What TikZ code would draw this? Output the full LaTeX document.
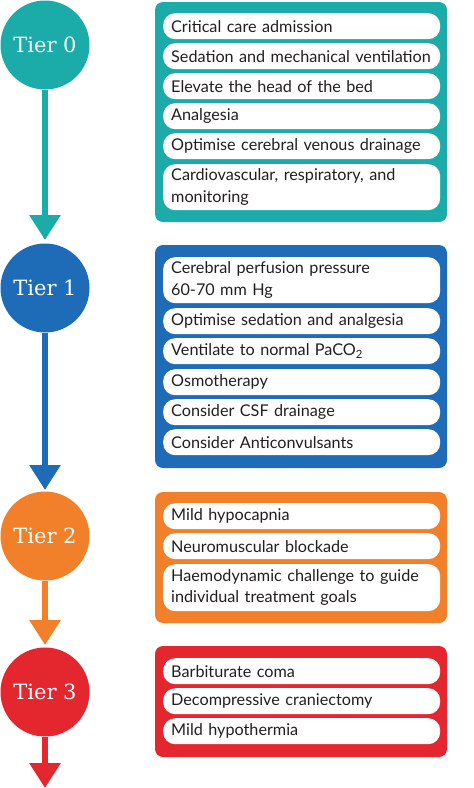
\documentclass[tikz,border=0pt]{standalone}
\usepackage{fontspec}
\setmainfont{Lato}
\newfontfamily\tierfont{DejaVu Serif}
\usetikzlibrary{arrows.meta}
\definecolor{tealzero}{RGB}{27,172,170}
\definecolor{blueone}{RGB}{30,108,184}
\definecolor{orangetwo}{RGB}{242,128,42}
\definecolor{redthree}{RGB}{228,38,46}
\definecolor{itemtext}{RGB}{35,31,32}
\begin{document}
\begin{tikzpicture}[x=1pt,y=-1pt]
  \tikzstyle{tiernode}=[circle, minimum size=89pt, inner sep=0pt, text=white, font=\tierfont\fontsize{21}{24}\selectfont]
  \tikzstyle{tierbox}=[rounded corners=8pt]
  \tikzstyle{item}=[rectangle, rounded corners=12pt, fill=white, text=itemtext, anchor=north west, minimum width=277pt, minimum height=26pt, text width=261pt, inner xsep=8pt, inner ysep=2pt, align=left, font=\fontsize{16.2}{21.5}\selectfont]
  \tikzstyle{tierarrow}=[line width=6pt, -{Triangle[width=30pt,length=25pt]}]
  \useasboundingbox (0,0) rectangle (474,788);

  % Tier circles
  \node[tiernode, fill=tealzero] (t0) at (45,45) {Tier 0};
  \node[tiernode, fill=blueone] (t1) at (45,288) {Tier 1};
  \node[tiernode, fill=orangetwo] (t2) at (45,536) {Tier 2};
  \node[tiernode, fill=redthree] (t3) at (45,692) {Tier 3};

  % Arrow ends
  \coordinate (e0) at (45,240);
  \coordinate (e1) at (45,490);
  \coordinate (e2) at (45,645);
  \coordinate (e3) at (45,788);

  \draw[tierarrow, tealzero] (t0) -- (e0);
  \draw[tierarrow, blueone] (t1) -- (e1);
  \draw[tierarrow, orangetwo] (t2) -- (e2);
  \draw[tierarrow, redthree] (t3) -- (e3);

  % Tier 0 box
  \fill[tierbox, tealzero] (155,2) rectangle (447,222);
  \node[item] (c1) at (163,13) {Critical care admission};
  \node[item] (c2) at (163,43) {Sedation and mechanical ventilation};
  \node[item] (c3) at (163,73) {Elevate the head of the bed};
  \node[item] (c4) at (163,103) {Analgesia};
  \node[item] (c5) at (163,133) {Optimise cerebral venous drainage};
  \node[item, minimum height=46pt] (c6) at (163,164) {Cardiovascular, respiratory, and\\monitoring};

  % Tier 1 box
  \fill[tierbox, blueone] (155,245) rectangle (447,468);
  \node[item, minimum height=46pt] (b1) at (163,257) {Cerebral perfusion pressure\\60-70 mm Hg};
  \node[item] (b2) at (163,308) {Optimise sedation and analgesia};
  \node[item] (b3) at (163,338) {Ventilate to normal PaCO\textsubscript{2}};
  \node[item] (b4) at (163,369) {Osmotherapy};
  \node[item] (b5) at (163,399) {Consider CSF drainage};
  \node[item] (b6) at (163,429) {Consider Anticonvulsants};

  % Tier 2 box
  \fill[tierbox, orangetwo] (155,492) rectangle (447,623);
  \node[item] (o1) at (163,503) {Mild hypocapnia};
  \node[item] (o2) at (163,533) {Neuromuscular blockade};
  \node[item, minimum height=47pt] (o3) at (163,564) {Haemodynamic challenge to guide\\individual treatment goals};

  % Tier 3 box
  \fill[tierbox, redthree] (155,646) rectangle (447,757);
  \node[item] (r1) at (163,658) {Barbiturate coma};
  \node[item] (r2) at (163,688) {Decompressive craniectomy};
  \node[item] (r3) at (163,718) {Mild hypothermia};
\end{tikzpicture}
\end{document}
